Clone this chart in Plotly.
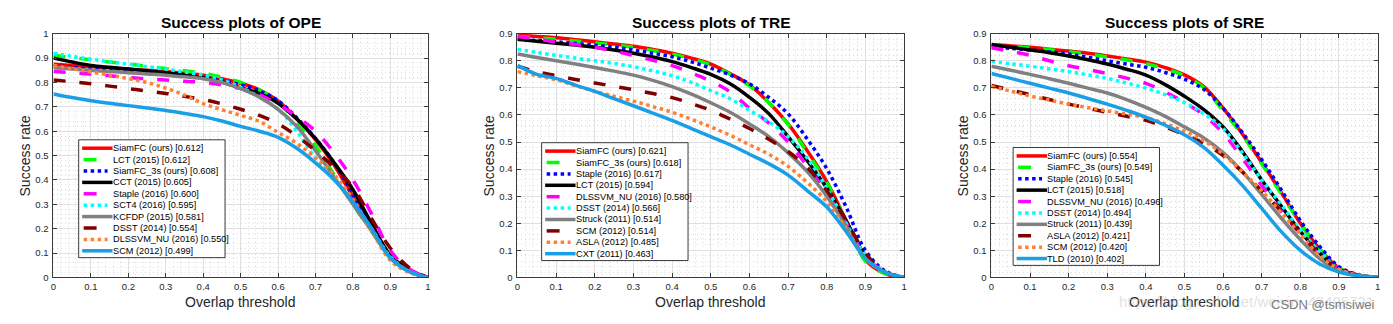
import plotly.graph_objects as go

W, H = 1393, 324

# Overlap thresholds at which the success rate is sampled
thresholds = [0, 0.05, 0.1, 0.15, 0.2, 0.25, 0.3, 0.35, 0.4, 0.45, 0.5,
              0.55, 0.6, 0.65, 0.7, 0.75, 0.8, 0.85, 0.9, 0.95, 1.0]

# ---- OPE ----
ope_names = [
    "SiamFC (ours) [0.612]", "LCT (2015) [0.612]", "SiamFC_3s (ours) [0.608]",
    "CCT (2015) [0.605]", "Staple (2016) [0.600]", "SCT4 (2016) [0.595]",
    "KCFDP (2015) [0.581]", "DSST (2014) [0.554]", "DLSSVM_NU (2016) [0.550]",
    "SCM (2012) [0.499]",
]
ope_siamfc = [.875, .87, .865, .86, .855, .85, .845, .838, .83, .815, .797, .77, .724, .65, .565, .46, .33, .21, .09, .03, 0]
ope_lct = [.912, .902, .893, .884, .876, .866, .857, .848, .838, .822, .8, .77, .72, .635, .54, .42, .3, .19, .08, .025, 0]
ope_siamfc3s = [.87, .862, .855, .85, .845, .84, .835, .828, .82, .808, .79, .765, .725, .655, .57, .47, .34, .21, .085, .025, 0]
ope_cct = [.9, .884, .87, .862, .855, .848, .84, .832, .82, .802, .778, .755, .715, .65, .57, .47, .36, .22, .09, .03, 0]
ope_staple = [.845, .84, .835, .828, .82, .815, .81, .805, .8, .79, .775, .75, .71, .66, .6, .51, .4, .26, .11, .035, 0]
ope_sct4 = [.92, .907, .895, .885, .875, .865, .855, .843, .83, .81, .78, .74, .69, .6, .49, .41, .31, .2, .085, .025, 0]
ope_kcfdp = [.86, .855, .85, .845, .84, .835, .83, .823, .815, .8, .775, .74, .69, .62, .52, .41, .3, .19, .08, .025, 0]
ope_dsst = [.81, .803, .795, .785, .775, .765, .755, .743, .73, .712, .69, .665, .63, .58, .52, .45, .37, .24, .12, .04, 0]
ope_dlssvm = [.87, .857, .843, .83, .816, .8, .777, .748, .713, .688, .665, .64, .595, .55, .49, .42, .32, .19, .07, .02, 0]
ope_scm = [.753, .738, .725, .715, .705, .695, .685, .673, .66, .642, .62, .6, .575, .53, .47, .4, .31, .2, .08, .025, 0]

# ---- TRE ----
tre_names = [
    "SiamFC (ours) [0.621]", "SiamFC_3s (ours) [0.618]", "Staple (2016) [0.617]",
    "LCT (2015) [0.594]", "DLSSVM_NU (2016) [0.580]", "DSST (2014) [0.566]",
    "Struck (2011) [0.514]", "SCM (2012) [0.514]", "ASLA (2012) [0.485]",
    "CXT (2011) [0.463]",
]
tre_siamfc = [.895, .89, .885, .878, .87, .862, .854, .842, .828, .81, .788, .753, .711, .646, .567, .467, .354, .21, .065, .015, 0]
tre_siamfc3s = [.89, .885, .88, .873, .866, .858, .85, .838, .825, .807, .785, .75, .708, .645, .565, .46, .35, .205, .06, .015, 0]
tre_staple = [.88, .875, .87, .864, .858, .85, .84, .828, .815, .796, .773, .748, .715, .665, .604, .51, .402, .26, .1, .025, 0]
tre_lct = [.88, .872, .865, .858, .85, .84, .828, .814, .797, .775, .75, .715, .665, .605, .52, .43, .33, .21, .08, .02, 0]
tre_dlssvm = [.89, .88, .87, .86, .85, .836, .82, .802, .782, .755, .725, .685, .625, .57, .5, .41, .31, .2, .08, .02, 0]
tre_dsst = [.842, .831, .82, .81, .8, .79, .778, .763, .745, .72, .69, .66, .617, .575, .52, .44, .33, .2, .08, .02, 0]
tre_struck = [.825, .812, .8, .788, .775, .762, .747, .728, .705, .677, .645, .61, .567, .52, .46, .39, .3, .19, .07, .02, 0]
tre_scm = [.78, .76, .745, .731, .718, .706, .693, .679, .664, .642, .617, .585, .55, .51, .465, .405, .32, .21, .09, .02, 0]
tre_asla = [.76, .745, .73, .708, .687, .669, .651, .631, .61, .584, .556, .525, .49, .455, .41, .35, .28, .18, .07, .02, 0]
tre_cxt = [.783, .75, .735, .71, .687, .66, .634, .607, .58, .55, .52, .49, .455, .42, .378, .32, .26, .17, .07, .02, 0]

# ---- SRE ----
sre_names = [
    "SiamFC (ours) [0.554]", "SiamFC_3s (ours) [0.549]", "Staple (2016) [0.545]",
    "LCT (2015) [0.518]", "DLSSVM_NU (2016) [0.496]", "DSST (2014) [0.494]",
    "Struck (2011) [0.439]", "ASLA (2012) [0.421]", "SCM (2012) [0.420]",
    "TLD (2010) [0.402]",
]
sre_siamfc = [.859, .855, .85, .843, .836, .828, .818, .807, .795, .775, .748, .705, .625, .53, .425, .315, .2, .105, .035, .008, 0]
sre_siamfc3s = [.86, .854, .848, .841, .834, .825, .815, .803, .79, .77, .745, .7, .615, .525, .42, .31, .2, .105, .035, .008, 0]
sre_staple = [.852, .846, .84, .833, .825, .813, .8, .788, .776, .757, .732, .695, .625, .535, .435, .325, .21, .115, .04, .01, 0]
sre_lct = [.86, .85, .84, .83, .818, .804, .788, .769, .747, .712, .669, .62, .556, .465, .36, .265, .17, .09, .03, .008, 0]
sre_dlssvm = [.848, .835, .82, .8, .782, .768, .753, .736, .717, .685, .646, .6, .533, .44, .34, .245, .16, .085, .03, .008, 0]
sre_dsst = [.798, .789, .78, .77, .76, .748, .735, .718, .699, .675, .646, .605, .55, .46, .36, .27, .175, .095, .03, .008, 0]
sre_struck = [.78, .765, .75, .734, .717, .699, .681, .657, .628, .595, .556, .515, .461, .39, .307, .22, .14, .07, .025, .008, 0]
sre_asla = [.709, .692, .675, .657, .64, .625, .61, .595, .58, .556, .527, .495, .45, .39, .32, .245, .165, .085, .03, .008, 0]
sre_scm = [.705, .688, .67, .655, .64, .627, .615, .603, .59, .568, .54, .505, .455, .39, .32, .24, .16, .08, .03, .008, 0]
sre_tld = [.753, .735, .717, .699, .681, .661, .64, .617, .592, .562, .527, .48, .414, .34, .255, .17, .1, .05, .02, .006, 0]

# Line styles by legend rank (shared by all three plots)
line_colors = ["#ff0000", "#00ff00", "#0000ff", "#000000", "#ff00ff",
               "#00ffff", "#808080", "#800000", "#ff8033", "#1a9fe6"]
line_kinds = ["solid", "dash", "dot", "solid", "dash",
              "dot", "solid", "dash", "dot", "solid"]
DASHES = {"solid": "solid", "dash": "12px,14px", "dot": "3.5px,3.5px"}
LW = 3.5

FONT = "Liberation Sans, Arial, Helvetica, sans-serif"

# Axes frames in pixels (left, right); shared vertical extent
AX_TOP, AX_BOTTOM = 28.7, 281.0
panels = [
    dict(title="Success plots of OPE", names=ope_names, ymax=1.0, left=50.7, right=426.7,
         leg=(76, 138.5),
         series=[ope_siamfc, ope_lct, ope_siamfc3s, ope_cct, ope_staple,
                 ope_sct4, ope_kcfdp, ope_dsst, ope_dlssvm, ope_scm]),
    dict(title="Success plots of TRE", names=tre_names, ymax=0.9, left=516.7, right=905.0,
         leg=(541, 141.5),
         series=[tre_siamfc, tre_siamfc3s, tre_staple, tre_lct, tre_dlssvm,
                 tre_dsst, tre_struck, tre_scm, tre_asla, tre_cxt]),
    dict(title="Success plots of SRE", names=sre_names, ymax=0.9, left=992.7, right=1380.5,
         leg=(1014.5, 146.5),
         series=[sre_siamfc, sre_siamfc3s, sre_staple, sre_lct, sre_dlssvm,
                 sre_dsst, sre_struck, sre_asla, sre_scm, sre_tld]),
]


def px(xp):
    return xp / W


def py(yp):
    return 1 - yp / H


fig = go.Figure()
layout = dict(
    width=W, height=H, autosize=False,
    margin=dict(l=0, r=0, t=0, b=0, pad=0),
    paper_bgcolor="white", plot_bgcolor="white",
    showlegend=False,
)
shapes = []
annotations = []

axis_common = dict(
    showline=True, linecolor="#3a3a3a", linewidth=1, mirror="ticks",
    ticks="inside", ticklen=4, tickwidth=1, tickcolor="#3a3a3a",
    showgrid=True, gridcolor="#e0e0e0", gridwidth=1, zeroline=False,
    tickfont=dict(family=FONT, size=9.5, color="#262626"),
    tick0=0, dtick=0.1, fixedrange=True,
    minor=dict(tick0=0, dtick=0.02, showgrid=True, gridcolor="#dcdcdc",
               griddash="1px,3px", gridwidth=1, ticks=""),
)

for i, p in enumerate(panels):
    k = "" if i == 0 else str(i + 1)
    xa, ya = "x" + k, "y" + k
    for name, vals, col, kind in zip(p["names"], p["series"], line_colors, line_kinds):
        fig.add_trace(go.Scatter(
            x=thresholds, y=vals, name=name, mode="lines",
            line=dict(color=col, width=LW, dash=DASHES[kind], shape="spline", smoothing=1.0),
            xaxis=xa, yaxis=ya, hoverinfo="skip",
        ))
    layout["xaxis" + k] = dict(axis_common, domain=[px(p["left"]), px(p["right"])],
                               range=[0, 1], anchor=ya)
    layout["yaxis" + k] = dict(axis_common, domain=[py(AX_BOTTOM), py(AX_TOP)],
                               range=[0, p["ymax"]], anchor=xa,
                               ticklabelstandoff=2)

    cx = (p["left"] + p["right"]) / 2
    # title, axis titles
    annotations.append(dict(text="<b>" + p["title"] + "</b>", x=px(cx), y=py(17.5),
                            xref="paper", yref="paper", showarrow=False,
                            xanchor="center", yanchor="middle",
                            font=dict(family=FONT, size=15.5, color="black")))
    annotations.append(dict(text="Overlap threshold", x=px(cx), y=py(306),
                            xref="paper", yref="paper", showarrow=False,
                            xanchor="center", yanchor="middle",
                            font=dict(family=FONT, size=14, color="#262626")))
    annotations.append(dict(text="Success rate", x=px(p["left"] - 28.7),
                            y=py((AX_TOP + AX_BOTTOM) / 2),
                            xref="paper", yref="paper", showarrow=False, textangle=-90,
                            xanchor="center", yanchor="middle",
                            font=dict(family=FONT, size=14, color="#262626")))

    # legend box
    bx, by = p["leg"]
    bw, bh = 147, 122
    shapes.append(dict(type="rect", xref="paper", yref="paper", layer="above",
                       x0=px(bx), x1=px(bx + bw), y0=py(by + bh), y1=py(by),
                       fillcolor="white", line=dict(color="#3a3a3a", width=1)))
    for r, (name, col, kind) in enumerate(zip(p["names"], line_colors, line_kinds)):
        yc = by + 8.7 + r * 11.8
        if kind == "solid":
            s0, s1, d = 3.5, 34, "solid"
        elif kind == "dash":
            s0, s1, d = 5, 18, "solid"
        else:
            s0, s1, d = 5, 29, DASHES["dot"]
        shapes.append(dict(type="line", xref="paper", yref="paper", layer="above",
                           x0=px(bx + s0), x1=px(bx + s1), y0=py(yc), y1=py(yc),
                           line=dict(color=col, width=LW, dash=d)))
        annotations.append(dict(text=name, x=px(bx + 32.5), y=py(yc),
                                xref="paper", yref="paper", showarrow=False,
                                xanchor="left", yanchor="middle",
                                font=dict(family=FONT, size=9.2, color="black")))

# page watermark
annotations.append(dict(text="https://blog.csdn.net/weixin_42495721", x=px(1249), y=py(306),
                        xref="paper", yref="paper", showarrow=False,
                        xanchor="center", yanchor="middle",
                        font=dict(family=FONT, size=15, color="rgba(200,200,200,0.55)")))
annotations.append(dict(text="CSDN @tsmsiwei", x=px(1326), y=py(309),
                        xref="paper", yref="paper", showarrow=False,
                        xanchor="center", yanchor="middle",
                        font=dict(family=FONT, size=13, color="#7a7a7a")))

layout["shapes"] = shapes
layout["annotations"] = annotations
fig.update_layout(**layout)
fig.write_html("out.html")
